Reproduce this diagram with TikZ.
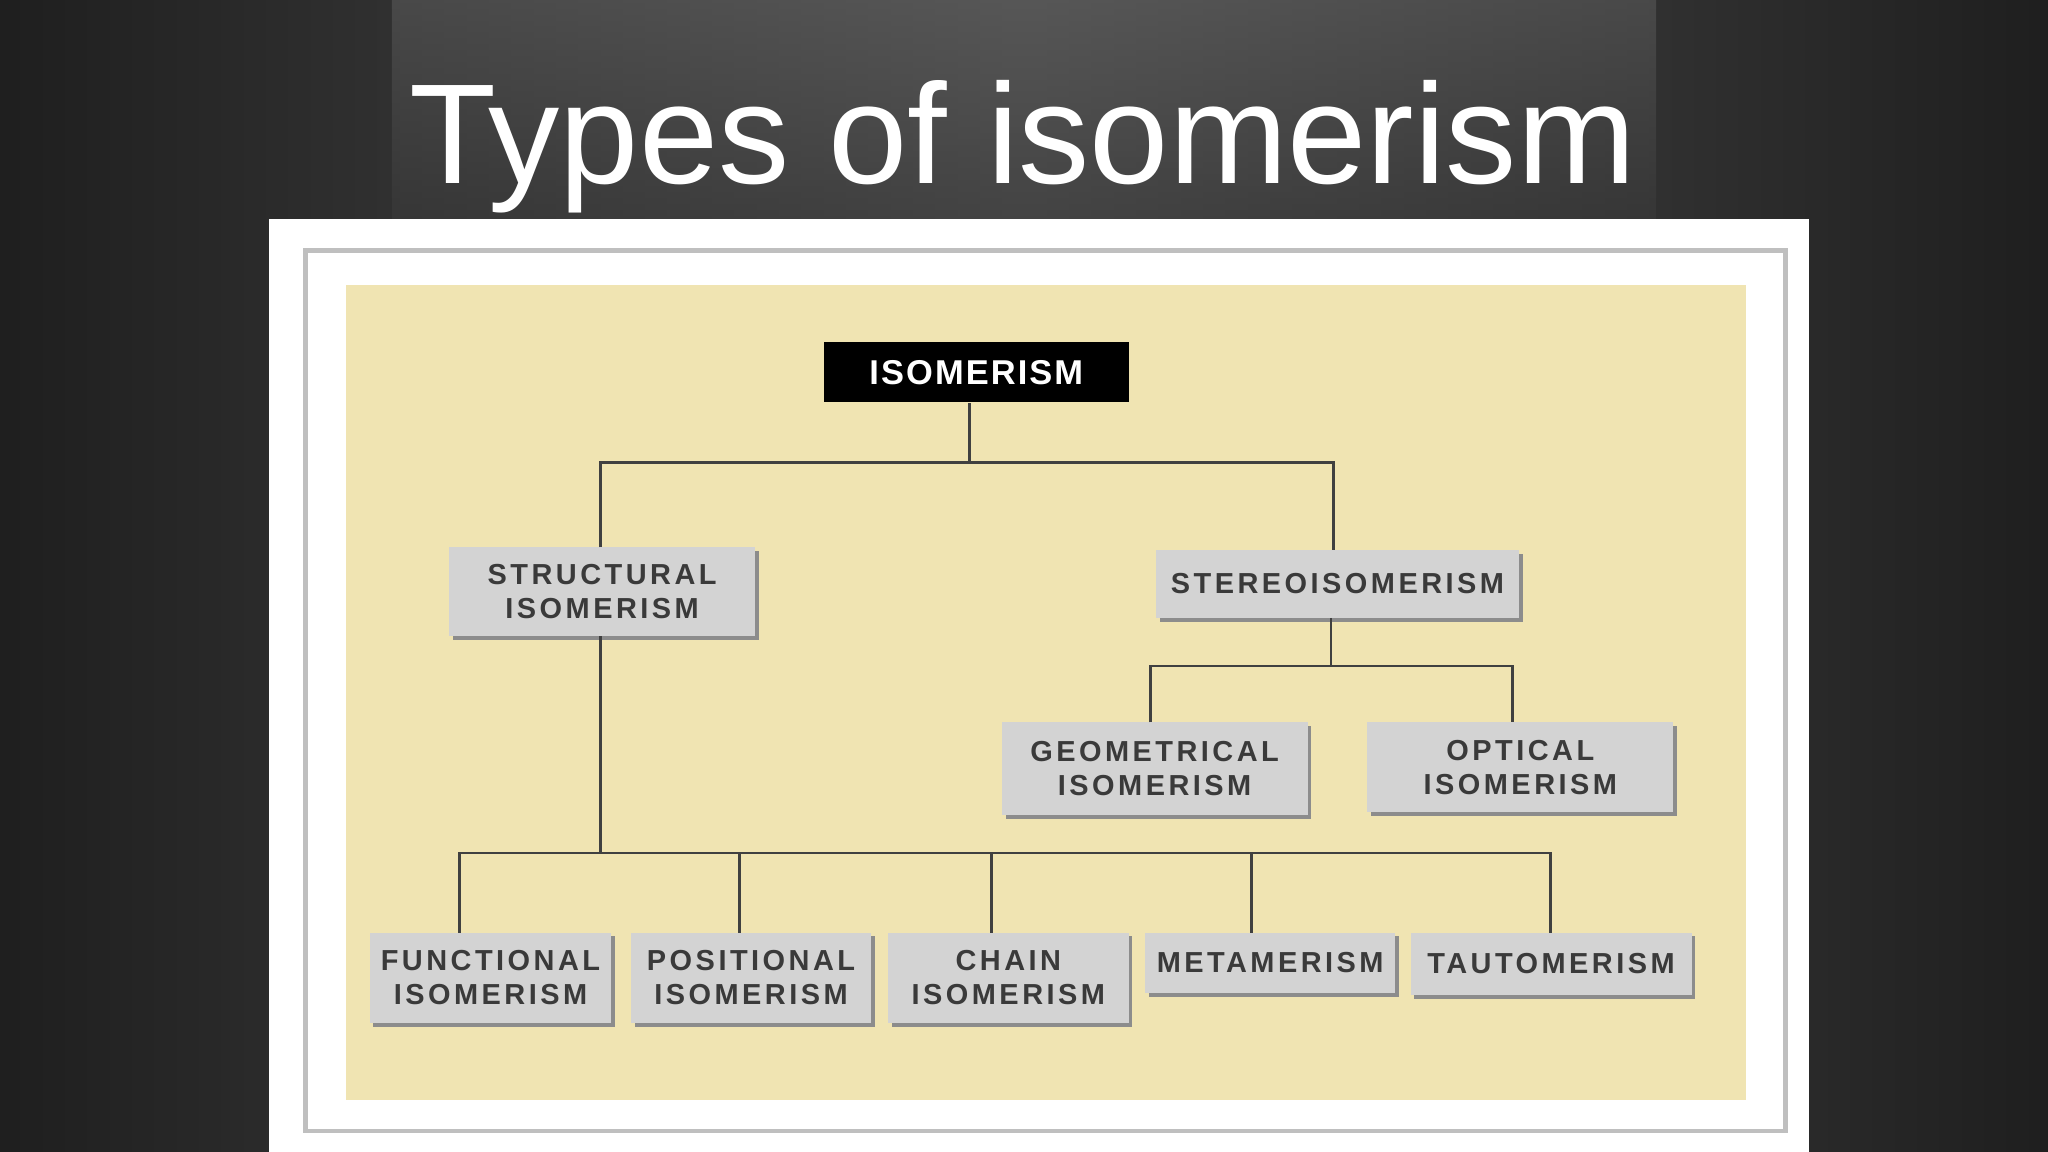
\documentclass[tikz,border=0pt]{standalone}
\usepackage{fontspec}
\setmainfont{Liberation Sans}
\usetikzlibrary{shadows}
\definecolor{beige}{HTML}{F0E4B2}
\definecolor{boxg}{HTML}{D3D3D3}
\definecolor{txtg}{HTML}{3A3A3A}
\begin{document}
\begin{tikzpicture}[x=0.01cm,y=-0.01cm,
  box/.style={draw=none,fill=boxg,text=txtg,align=center,inner sep=0pt,
    font=\fontsize{6.3pt}{7.5pt}\selectfont\bfseries\addfontfeature{LetterSpace=12},
    drop shadow={shadow xshift=0.03cm,shadow yshift=-0.03cm,fill=black!45,opacity=1}},
  conn/.style={draw=black!75,line width=0.6pt}]
\useasboundingbox (0,0) rectangle (1568,882);
\shade[left color=black!88,right color=black!88,middle color=black!70] (0,0) rectangle (1568,882);
\shade[top color=black!62,bottom color=black!88,opacity=0.5] (300,0) rectangle (1268,300);
\node[text=white,font=\fontsize{31pt}{36pt}\selectfont] (title) at (783,112) {Types of isomerism};
\fill[white] (206,168) rectangle (1385,882);
\draw[black!25,line width=1pt] (234,192) rectangle (1367,866);
\fill[beige] (265,218) rectangle (1337,842);
% nodes
\node[fill=black,text=white,inner sep=0pt,minimum width=2.33cm,minimum height=0.46cm,
  font=\fontsize{7.5pt}{9pt}\selectfont\bfseries\addfontfeature{LetterSpace=6}] (iso) at (747.5,285) {ISOMERISM};
\node[box,minimum width=2.34cm,minimum height=0.68cm] (struct) at (461,453) {STRUCTURAL\\ISOMERISM};
\node[box,minimum width=2.78cm,minimum height=0.52cm] (stereo) at (1024,447) {STEREOISOMERISM};
\node[box,minimum width=2.34cm,minimum height=0.71cm] (geo) at (884,588.5) {GEOMETRICAL\\ISOMERISM};
\node[box,minimum width=2.34cm,minimum height=0.69cm] (opt) at (1164,587.5) {OPTICAL\\ISOMERISM};
\node[box,minimum width=1.85cm,minimum height=0.69cm] (func) at (375.5,748.5) {FUNCTIONAL\\ISOMERISM};
\node[box,minimum width=1.84cm,minimum height=0.69cm] (pos) at (575,748.5) {POSITIONAL\\ISOMERISM};
\node[box,minimum width=1.84cm,minimum height=0.69cm] (chain) at (772,748.5) {CHAIN\\ISOMERISM};
\node[box,minimum width=1.91cm,minimum height=0.46cm] (meta) at (972.5,737) {METAMERISM};
\node[box,minimum width=2.15cm,minimum height=0.48cm] (taut) at (1187.5,738) {TAUTOMERISM};
% junctions
\coordinate (j1) at (742,354);
\coordinate (a1) at (460,354);
\coordinate (a2) at (1021,354);
\coordinate (s0) at (1019,510);
\coordinate (s1) at (881,510);
\coordinate (s2) at (1158,510);
\coordinate (b0) at (460,653);
\coordinate (f1) at (352,653);
\coordinate (f2) at (566,653);
\coordinate (f3) at (759,653);
\coordinate (f4) at (958,653);
\coordinate (f5) at (1187,653);
\coordinate (g1) at (352,714);
\coordinate (g2) at (566,714);
\coordinate (g3) at (759,714);
\coordinate (g4) at (958,714);
\coordinate (g5) at (1187,714);
\coordinate (h1) at (460,419);
\coordinate (h2) at (1021,421);
\coordinate (k1) at (881,553);
\coordinate (k2) at (1158,553);
\coordinate (c1) at (460,487);
\coordinate (c2) at (1019,473);
% connectors
\draw[conn] (iso.south -| j1) -- (j1);
\draw[conn] (h1) -- (a1) -- (a2) -- (h2);
\draw[conn] (c2) -- (s0);
\draw[conn] (k1) -- (s1) -- (s2) -- (k2);
\draw[conn] (c1) -- (b0);
\draw[conn] (g1) -- (f1) -- (f5) -- (g5);
\draw[conn] (f2) -- (g2);
\draw[conn] (f3) -- (g3);
\draw[conn] (f4) -- (g4);
\end{tikzpicture}
\end{document}
